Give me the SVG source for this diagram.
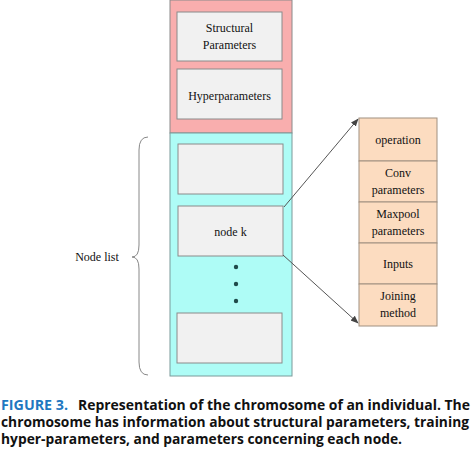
<svg xmlns="http://www.w3.org/2000/svg" width="474" height="449" viewBox="0 0 474 449">
<style>
.lbl{font-family:"Liberation Serif","Times New Roman",serif;font-size:12px;fill:#111;text-anchor:middle}
.box{fill:#f1f1f1;stroke:#8a8a8a;stroke-width:1}
.ob{fill:#fcdcc0;stroke:#a09080;stroke-width:1}
.cap{font-family:"Open Sans","Noto Sans",sans-serif;font-size:15px;font-weight:bold;fill:#111}
.fig{fill:#1f78c1}
.conn{stroke:#555;stroke-width:1;fill:none}
</style>
<defs>
<marker id="ah" viewBox="0 0 10 10" refX="9" refY="5" markerWidth="8" markerHeight="8" orient="auto" markerUnits="userSpaceOnUse">
<path d="M0,1 L10,5 L0,9 Z" fill="#444"/>
</marker>
</defs>
<rect width="474" height="449" fill="#fff"/>
<g id="header">
<rect x="170" y="0" width="122" height="133" fill="#f9aeae" stroke="#8a8a8a"/>
</g>
<g id="nodelist-column">
<rect x="170" y="133" width="122" height="243" fill="#aefcf6" stroke="#7a9a9a"/>
</g>
<g id="structural">
<rect class="box" x="177" y="12" width="105" height="49"/>
<text class="lbl" x="229.5" y="32">Structural</text>
<text class="lbl" x="229.5" y="49">Parameters</text>
</g>
<g id="hyper">
<rect class="box" x="177" y="69" width="105" height="50"/>
<text class="lbl" x="229.5" y="100">Hyperparameters</text>
</g>
<g id="node1">
<rect class="box" x="178" y="144" width="105" height="50"/>
</g>
<g id="nodek">
<rect class="box" x="178" y="206" width="105" height="50"/>
<text class="lbl" x="230.5" y="236">node k</text>
</g>
<g id="dots" fill="#1f4a4a">
<circle cx="236" cy="267" r="2.2"/>
<circle cx="236" cy="284" r="2.2"/>
<circle cx="236" cy="301" r="2.2"/>
</g>
<g id="nodelast">
<rect class="box" x="177" y="313" width="105" height="50"/>
</g>
<g id="brace">
<path d="M148,137 Q139,137 139,150 L139,245 Q139,257 132,257 Q139,257 139,269 L139,362 Q139,375 148,375" fill="none" stroke="#888" stroke-width="1"/>
<text class="lbl" x="97" y="261">Node list</text>
</g>
<g id="node-detail">
<rect class="ob" x="359" y="118" width="78" height="43"/>
<rect class="ob" x="359" y="161" width="78" height="41"/>
<rect class="ob" x="359" y="202" width="78" height="41"/>
<rect class="ob" x="359" y="243" width="78" height="41"/>
<rect class="ob" x="359" y="284" width="78" height="42"/>
<text class="lbl" x="398" y="144">operation</text>
<text class="lbl" x="398" y="177">Conv</text>
<text class="lbl" x="398" y="194">parameters</text>
<text class="lbl" x="398" y="218">Maxpool</text>
<text class="lbl" x="398" y="235">parameters</text>
<text class="lbl" x="398" y="268">Inputs</text>
<text class="lbl" x="398" y="300">Joining</text>
<text class="lbl" x="398" y="317">method</text>
</g>
<g id="connectors">
<line class="conn" x1="284" y1="207" x2="358" y2="119" marker-end="url(#ah)"/>
<line class="conn" x1="283" y1="255" x2="358" y2="323" marker-end="url(#ah)"/>
</g>
<g id="caption">
<text class="cap fig" x="1" y="410" textLength="67" lengthAdjust="spacingAndGlyphs">FIGURE 3.</text>
<text class="cap" x="78" y="410" textLength="392" lengthAdjust="spacingAndGlyphs">Representation of the chromosome of an individual. The</text>
<text class="cap" x="1" y="427" textLength="468" lengthAdjust="spacingAndGlyphs">chromosome has information about structural parameters, training</text>
<text class="cap" x="1" y="444" textLength="401" lengthAdjust="spacingAndGlyphs">hyper-parameters, and parameters concerning each node.</text>
</g>
</svg>
